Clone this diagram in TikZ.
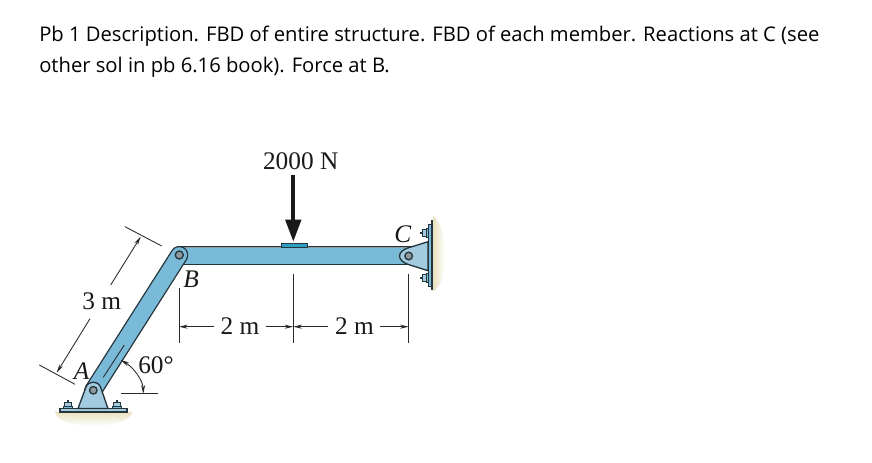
\documentclass[tikz,border=0pt]{standalone}
\usepackage{fontspec}
\setmainfont{Liberation Serif}
\newfontfamily\notefont{Open Sans}
\usetikzlibrary{arrows.meta}
\definecolor{steel}{HTML}{78BAD7}
\definecolor{steeldark}{HTML}{26343C}
\definecolor{gusset}{HTML}{A3CBE0}
\definecolor{pad}{HTML}{2E9FC4}
\definecolor{shadowtone}{HTML}{E8E2BE}
\definecolor{pingrey}{HTML}{8E9AA0}
\definecolor{dimline}{HTML}{2A2A2A}
\tikzset{
  dimstyle/.style={draw=dimline,line width=0.65pt},
  dimarrow/.style={dimstyle,-{Stealth[length=6.5pt,width=3pt]}},
  dimtext/.style={inner sep=0pt,font=\fontsize{19}{21}\selectfont,text=black!90},
  plate/.style={draw=steeldark,line width=1pt,fill=gusset},
  pinbody/.style={draw=steeldark,line width=1pt,fill=pingrey},
  notetext/.style={anchor=base west,inner sep=0pt,font=\notefont\fontsize{15.15}{18}\selectfont}
}
\newcommand{\nutup}[2]{%
  \fill[steel,draw=steeldark,line width=0.5pt] (#1-4.5,#2-2) rectangle (#1+4.5,#2);
  \fill[gusset,draw=steeldark,line width=0.5pt] (#1-3.2,#2-6) rectangle (#1+3.2,#2-2);
  \fill[steeldark] (#1-1.2,#2-8) rectangle (#1+1.2,#2-6);}
\newcommand{\nutright}[2]{%
  \fill[steel,draw=steeldark,line width=0.5pt] (#1-2,#2-4.5) rectangle (#1,#2+4.5);
  \fill[gusset,draw=steeldark,line width=0.5pt] (#1-6,#2-3.2) rectangle (#1-2,#2+3.2);
  \fill[steeldark] (#1-8,#2-1.2) rectangle (#1-6,#2+1.2);}
\begin{document}
\begin{tikzpicture}[x=0.75pt,y=-0.75pt]
\useasboundingbox (0,0) rectangle (872,463);
\fill[white] (0,0) rectangle (872,463);
% heading
\node[notetext] (line1) at (39,41.5) {Pb 1 Description. FBD of entire structure. FBD of each member. Reactions at C (see};
\node[notetext] (line2) at (39,72.5) {other sol in pb 6.16 book). Force at B.};
% coordinates
\coordinate (A) at (93.3,390.3);
\coordinate (B) at (179.3,255);
\coordinate (C) at (408.7,256);
% shadows
\shade[top color=shadowtone,bottom color=white] (55,412) -- (132,412) .. controls (131,420) and (115,426) .. (93,426) .. controls (72,426) and (56,420) .. (55,412) -- cycle;
\shade[left color=shadowtone,right color=white] (433,216) .. controls (442,222) and (445,240) .. (445,255) .. controls (445,272) and (442,286) .. (433,292) -- cycle;
% beam BC
\fill[steel,draw=steeldark,line width=1.1pt] (B |- 0,247) rectangle (412,264.5);
\draw[pingrey,line width=1pt] (182,247.3) -- (412,247.3);
% load pad
\fill[pad,draw=steeldark,line width=0.7pt] (281,243) rectangle (307,247);
% member AB
\draw[steeldark,line width=13.6pt,line cap=round] (A) -- (B);
\draw[steel,line width=11.6pt,line cap=round] (A) -- (B);
% support at A
\fill[gusset,draw=steeldark,line width=0.8pt] (60,408.5) rectangle (127,412);
\nutup{68}{408.5}
\nutup{117}{408.5}
\path[plate] (78,408.5) -- (86,387) .. controls (88.5,380.5) and (98,380.5) .. (100.5,387) -- (108,408.5) -- cycle;
\draw[pinbody] (A) circle (3.8);
% support at C
\nutright{428}{233}
\nutright{428}{278}
\path[plate] (428,241.7) -- (410,247.3) .. controls (396,251) and (396,261) .. (410,265) -- (428,270.7) -- cycle;
\fill[steel,draw=steeldark,line width=0.7pt] (428,224) rectangle (431,286);
\fill[steeldark] (431,220) rectangle (433,290);
\draw[pinbody,fill=pingrey] (C) circle (3.8);
% pin B
\draw[pinbody] (B) circle (4);
% load
\coordinate (loadtop) at (293.3,175);
\coordinate (loadtip) at (293.3,241.7);
\draw[black!90,line width=2.8pt,-{Triangle[length=16.5pt,width=11.5pt]}] (loadtop) -- (loadtip);
\node[dimtext] (load) at (300.7,161) {2000 N};
% 3 m dimension
\coordinate (t1a) at (125,226.7); \coordinate (t1b) at (161.7,246);
\coordinate (t2a) at (39.3,365); \coordinate (t2b) at (75,384.3);
\draw[dimstyle] (t1a) -- (t1b);
\draw[dimstyle] (t2a) -- (t2b);
\coordinate (d1s) at (110.7,285); \coordinate (d1e) at (140.7,236.7);
\coordinate (d2s) at (90,318.7); \coordinate (d2e) at (56.7,372.7);
\draw[dimarrow] (d1s) -- (d1e);
\draw[dimarrow] (d2s) -- (d2e);
\node[dimtext] (threem) at (101.7,301) {3 m};
% labels
\node[dimtext,font=\fontsize{19}{21}\selectfont\itshape] (labA) at (81.7,371) {A};
\node[dimtext,font=\fontsize{19}{21}\selectfont\itshape] (labB) at (191,279) {B};
\node[dimtext,font=\fontsize{19}{21}\selectfont\itshape] (labC) at (402.7,234) {C};
% angle
\coordinate (ax1) at (103.3,377.3); \coordinate (ax2) at (124.3,345);
\coordinate (hz1) at (120.7,393.7); \coordinate (hz2) at (158.3,393.7);
\coordinate (arcs) at (120.7,360); \coordinate (arce) at (143.3,393.7);
\draw[dimstyle] (ax1) -- (ax2);
\draw[dimstyle] (hz1) -- (hz2);
\draw[dimstyle,{Stealth[length=6.5pt,width=3pt]}-{Stealth[length=6.5pt,width=3pt]}] (arcs) .. controls (133,367) and (143,380) .. (arce);
\node[dimtext] (angle) at (156,365) {60°};
% horizontal dimensions
\coordinate (v1a) at (179,288); \coordinate (v1b) at (179,343);
\coordinate (v2a) at (293.3,274); \coordinate (v2b) at (293.3,343);
\coordinate (v3a) at (408.7,274); \coordinate (v3b) at (408.7,343);
\draw[dimstyle] (v1a) -- (v1b);
\draw[dimstyle] (v2a) -- (v2b);
\draw[dimstyle] (v3a) -- (v3b);
\coordinate (h1) at (214,326.7); \coordinate (h2) at (265.7,326.7);
\coordinate (h3) at (328.3,326.7); \coordinate (h4) at (380,326.7);
\draw[dimarrow] (h1) -- (179,326.7);
\draw[dimarrow] (h2) -- (293.3,326.7);
\draw[dimarrow] (h3) -- (293.3,326.7);
\draw[dimarrow] (h4) -- (408.7,326.7);
\node[dimtext] (twom1) at (240,326) {2 m};
\node[dimtext] (twom2) at (354.5,326) {2 m};
\end{tikzpicture}
\end{document}
